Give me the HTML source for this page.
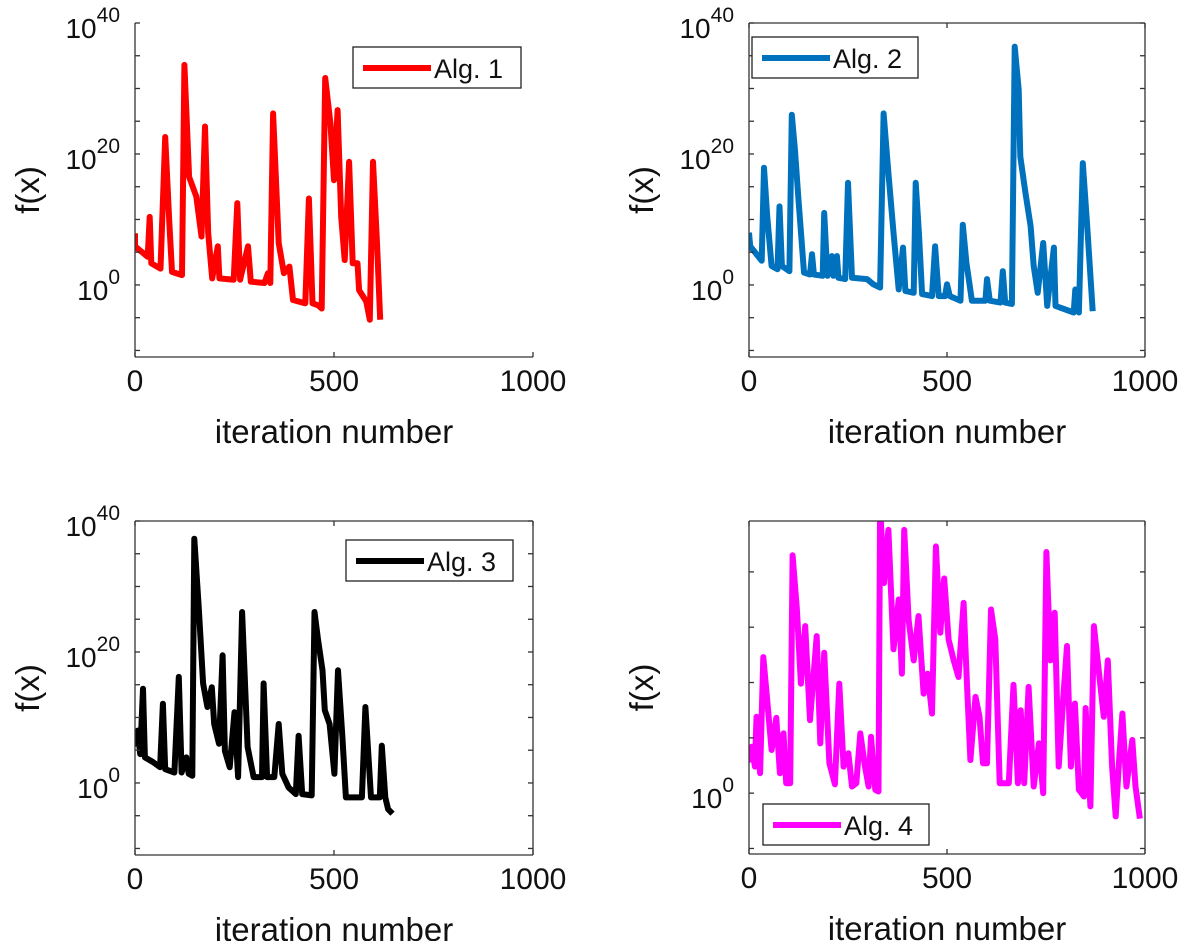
<!DOCTYPE html>
<html><head><meta charset="utf-8"><style>
html,body{margin:0;padding:0;background:#fff;}
svg{display:block;font-family:"Liberation Sans",Arial,sans-serif;}
</style></head><body>
<svg id="fig" width="1181" height="941" viewBox="0 0 1181 941" xmlns="http://www.w3.org/2000/svg"></svg>
<script>
// Alg. 1 data: iteration, log10 f(x)
const it1=[0,0,32,37,41,64,76,86,93,118,124,136,154,167,176,184,194,208,212,248,257,264,284,291,325,334,340,347,361,374,388,397,428,437,446,460,469,478,491,500,509,518,527,538,547,559,563,581,590,598,608,616];
const ex1=[7.9,5.9,4.3,10.4,3.3,2.5,22.6,9.9,2.0,1.5,33.6,16.5,13.5,7.4,24.2,7.9,1.0,5.9,1.0,0.8,12.5,0.8,5.9,0.5,0.3,1.8,0.3,26.2,6.4,1.8,2.8,-2.3,-2.8,13.2,-2.8,-3.1,-3.6,31.6,24.7,16.0,26.7,10.4,3.8,18.8,3.3,3.3,-0.8,-2.5,-5.3,18.8,6.4,-5.3];
// Alg. 2
const it2=[0,3,32,38,46,57,72,77,83,102,108,116,125,139,154,159,164,186,190,198,209,213,222,226,243,250,260,298,314,331,340,352,365,378,389,395,416,421,429,437,462,470,479,495,500,507,534,540,549,563,597,601,608,635,641,647,664,671,681,685,698,711,719,729,743,753,770,774,820,824,833,843,854,868];
const ex2=[8.0,5.9,3.7,17.9,10.5,2.9,2.4,12.0,2.9,2.1,26.0,20.7,13.0,1.9,1.6,4.7,1.6,1.4,11.0,1.4,4.4,1.4,4.4,1.1,0.9,15.6,1.1,0.9,0.1,-0.4,26.2,17.1,8.0,-0.7,5.7,-0.9,-1.2,15.6,8.0,-1.4,-1.7,5.9,-1.7,-1.7,0.1,-1.7,-2.4,9.2,3.4,-2.4,-2.4,0.9,-2.4,-2.7,2.1,-2.7,-2.9,36.4,29.8,19.6,14.1,9.0,2.9,-1.2,6.4,-3.2,5.7,-3.2,-4.2,-0.7,-4.2,18.6,9.0,-4.0];
// Alg. 3
const it3=[0,0,7,13,20,25,45,63,70,76,99,110,117,129,135,144,149,160,171,182,193,199,211,220,226,238,250,259,269,283,298,319,323,332,350,361,370,386,404,411,420,444,451,460,471,477,489,501,510,521,530,570,579,593,615,620,629,636,647];
const ex3=[8.0,6.0,8.0,4.4,14.4,3.9,3.2,2.4,12.1,2.1,1.6,16.2,1.6,3.9,1.4,1.1,37.3,26.9,15.2,11.6,14.6,9.0,6.0,19.5,4.9,2.4,10.8,0.9,26.1,5.5,0.9,0.9,15.2,0.9,0.9,9.0,1.4,-0.7,-1.7,7.2,-1.7,-1.9,26.1,21.8,17.2,11.1,9.0,1.4,17.2,7.0,-2.2,-2.2,11.6,-2.2,-2.2,5.7,-2.2,-4.0,-4.7];
// Alg. 4
const it4=[0,0,7,15,19,28,36,46,57,69,78,87,94,104,110,121,131,142,154,171,180,190,203,217,228,239,251,260,271,281,293,302,308,319,327,331,341,352,365,378,386,392,403,416,428,441,451,462,472,483,493,504,517,529,542,550,559,572,582,591,601,611,622,633,656,668,679,686,695,706,719,732,743,751,761,772,782,795,803,813,823,833,846,850,862,871,884,896,906,917,926,934,943,953,968,976,987];
const ex4=[3.9,3.0,4.2,2.4,6.9,1.8,12.3,8.4,3.9,6.8,1.8,5.4,0.9,0.9,21.5,16.6,9.9,15.1,6.6,14.2,4.5,12.7,2.7,0.8,9.9,2.4,3.6,0.6,0.9,5.4,2.4,0.6,5.1,0.3,0.15,26,19.0,23.8,13.0,17.5,10.8,23.8,15.7,12.0,16.0,9.0,10.8,7.2,22.3,14.5,19.4,13.9,12.0,10.5,17.2,10.2,3.0,8.7,6.9,2.7,2.7,16.6,13.9,0.9,0.9,9.8,0.9,7.5,0.9,9.6,0.6,4.5,0,21.8,12.0,16.3,2.4,9.3,13.3,2.4,8.1,0.3,-0.3,7.7,-1.2,15.1,10.8,6.9,12.0,2.4,-2.1,2.7,7.2,0.6,4.8,0.6,-2.3];
const xTicks=[0,500,1000];
const xTickLabels=["0","500","1000"];
const yTicksMain=[0,20,40];
const yTicks4=[0];

const NS="http://www.w3.org/2000/svg";
const svg=document.getElementById('fig');
function mk(tag,attrs,parent){const e=document.createElementNS(NS,tag);for(const k in attrs)e.setAttribute(k,attrs[k]);(parent||svg).appendChild(e);return e;}

function panel(id,L,T,W,H,ylo,yhi,minorStep,labTicks,its,exs,color,legend,box){
  const g=mk('g',{});
  
  
  const sx=v=>L+v/1000*W;
  const sy=v=>T+(yhi-v)/(yhi-ylo)*H;
  const cid='clip'+id;
  const cp=mk('clipPath',{id:cid},g);mk('rect',{x:L,y:T,width:W,height:H},cp);
  let d='';for(let i=0;i<its.length;i++){d+=(i?'L':'M')+sx(its[i]).toFixed(1)+','+sy(exs[i]).toFixed(1);}
  const p=mk('path',{d:d,fill:'none',stroke:color,'stroke-width':6,'stroke-linejoin':'round','clip-path':'url(#'+cid+')'},g);
  
  
  const ax=mk('g',{stroke:'#333','stroke-width':1.3,fill:'none'},g);
  
  
  mk('line',{x1:L,y1:T,x2:L,y2:T+H},ax);
  mk('line',{x1:L,y1:T+H,x2:L+W,y2:T+H},ax);
  if(box){mk('line',{x1:L,y1:T,x2:L+W,y2:T},ax);mk('line',{x1:L+W,y1:T,x2:L+W,y2:T+H},ax);}
  for(const t of xTicks){const x=sx(t);mk('line',{x1:x,y1:T+H,x2:x,y2:T+H-5},ax);if(box)mk('line',{x1:x,y1:T,x2:x,y2:T+5},ax);}
  for(let v=Math.ceil(ylo/minorStep)*minorStep;v<=yhi+0.01;v+=minorStep){const y=sy(v);mk('line',{x1:L,y1:y,x2:L+5,y2:y},ax);if(box)mk('line',{x1:L+W,y1:y,x2:L+W-5,y2:y},ax);}
  xTicks.forEach((t,i)=>{const tx=mk('text',{x:sx(t),y:T+H+34,'font-size':30,'text-anchor':'middle',fill:'#111'},g);tx.textContent=xTickLabels[i];
    
    });
  for(const v of labTicks){const y=sy(v);const tx=mk('text',{x:L-15,y:y+15,'font-size':28,'text-anchor':'end',fill:'#111'},g);
    
    
    const a=mk('tspan',{},tx);a.textContent='10';const b=mk('tspan',{dy:-16,'font-size':21},tx);b.textContent=String(v);}
  const xl=mk('text',{x:L+W/2,y:T+H+86,'font-size':33,'text-anchor':'middle',fill:'#111'},g);xl.textContent='iteration number';
  
  
  const yl=mk('text',{x:0,y:0,'font-size':33,'text-anchor':'middle',fill:'#111',transform:'translate('+(L-96)+','+(T+H/2)+') rotate(-90)'},g);yl.textContent='f(x)';
  
  
  const lg=mk('g',{},g);
  
  
  mk('rect',{x:legend[0],y:legend[1],width:legend[2],height:41,fill:'#fff',stroke:'#222','stroke-width':1.3},lg);
  mk('line',{x1:legend[0]+10,y1:legend[1]+21,x2:legend[0]+78,y2:legend[1]+21,stroke:color,'stroke-width':6},lg);
  const lt=mk('text',{x:legend[0]+81,y:legend[1]+31,'font-size':27,fill:'#111'},lg);lt.textContent=legend[3];
  
  
}
panel(1,135,23,398,334,-11,40,5,yTicksMain,it1,ex1,'#ff0000',[353,47,168,'Alg. 1'],false);
panel(2,749,23,396,334,-11,40,5,yTicksMain,it2,ex2,'#0072bd',[752,37,166,'Alg. 2'],true);
panel(3,135,521,398,334,-11,40,5,yTicksMain,it3,ex3,'#000000',[346,540,167,'Alg. 3'],true);
panel(4,749,521,396,333,-5.5,24.6,5,yTicks4,it4,ex4,'#ff00ff',[763,804,166,'Alg. 4'],true);
</script>
</body></html>
